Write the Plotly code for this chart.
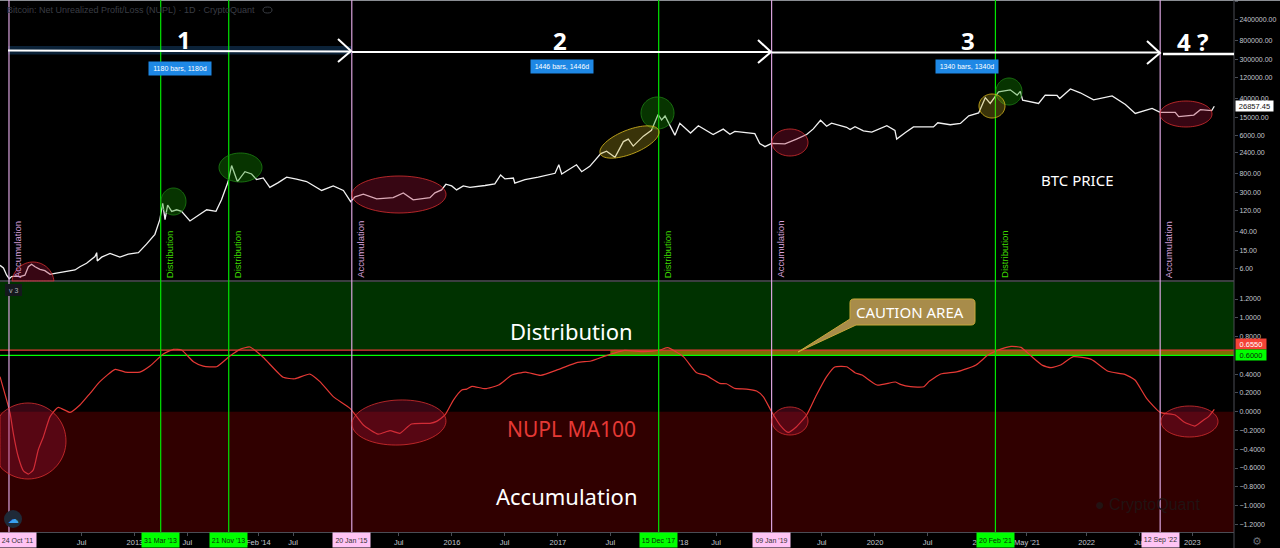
import math
import plotly.graph_objects as go

# BTC price
price_dates = ["2011-09-23","2011-10-05","2011-10-16","2011-10-25","2011-11-02","2011-11-14","2011-12-01","2011-12-18","2011-12-30","2012-01-10","2012-01-22","2012-02-08","2012-02-25","2012-03-14","2012-03-31","2012-05-10","2012-06-08","2012-06-25","2012-07-18","2012-08-16","2012-08-22","2012-08-24","2012-09-08","2012-10-07","2012-11-10","2012-12-09","2013-01-13","2013-02-10","2013-03-11","2013-03-28","2013-04-07","2013-04-15","2013-04-24","2013-05-08","2013-05-25","2013-06-11","2013-07-10","2013-08-02","2013-09-06","2013-10-08","2013-10-27","2013-11-19","2013-12-01","2013-12-21","2014-01-16","2014-02-08","2014-02-25","2014-03-20","2014-04-12","2014-05-11","2014-06-09","2014-07-13","2014-08-17","2014-10-08","2014-11-17","2014-12-22","2015-01-16","2015-01-31","2015-03-01","2015-04-16","2015-06-12","2015-07-17","2015-08-20","2015-10-17","2015-11-03","2015-11-26","2015-12-11","2015-12-31","2016-01-17","2016-02-09","2016-03-03","2016-04-24","2016-05-28","2016-06-17","2016-07-02","2016-07-31","2016-08-05","2016-09-09","2016-10-25","2016-12-22","2017-01-04","2017-01-14","2017-03-06","2017-03-24","2017-04-21","2017-05-29","2017-06-18","2017-07-17","2017-08-15","2017-09-01","2017-09-18","2017-10-23","2017-11-20","2017-12-13","2017-12-25","2018-01-06","2018-01-28","2018-02-09","2018-02-26","2018-04-04","2018-05-01","2018-06-21","2018-07-26","2018-08-18","2018-09-04","2018-11-12","2018-11-29","2018-12-17","2019-01-09","2019-02-24","2019-04-05","2019-05-10","2019-06-02","2019-06-27","2019-07-18","2019-08-04","2019-09-25","2019-10-07","2019-10-24","2019-11-22","2019-12-21","2020-02-11","2020-03-10","2020-03-16","2020-04-14","2020-05-13","2020-07-21","2020-08-05","2020-09-17","2020-10-22","2020-11-20","2020-12-24","2021-01-16","2021-02-02","2021-03-03","2021-04-12","2021-05-06","2021-05-17","2021-05-25","2021-07-19","2021-08-11","2021-09-21","2021-09-30","2021-11-06","2021-12-10","2022-01-25","2022-03-30","2022-05-15","2022-06-18","2022-07-17","2022-08-15","2022-09-12","2022-11-03","2022-11-15","2023-01-06","2023-01-29","2023-03-09","2023-03-18"]
price_vals = [7,6.1,4.2,3.5,3.9,4,3.9,4.2,6.5,7.4,6.5,5.7,5.3,4.4,4.6,5.1,5.5,6.5,7.8,11,13.5,8.8,10.7,13,10.7,12.5,13.5,21,35,75,175,75,160,115,125,115,70,88,125,115,210,540,1240,540,900,800,600,650,400,510,680,610,540,340,430,340,190,245,280,220,235,300,210,235,300,350,470,430,350,430,400,440,480,760,620,650,500,600,680,830,1290,800,1290,900,1190,2300,2600,1900,4300,4900,3400,5700,7700,17500,13200,16200,8400,6000,11100,6700,9800,6200,8200,6300,7300,6500,3900,3300,3900,3800,4900,6200,8300,13000,9500,11200,9000,8000,9300,7500,7000,9800,7700,4900,6800,9200,9200,11400,10300,11000,16300,19000,42000,31000,57000,63000,48000,58000,37000,31000,48000,47000,40000,66000,54000,37500,46000,29500,18500,21000,24000,19500,19500,15700,17000,22500,21500,26857.45]

# NUPL MA100
nupl_dates = ["2011-09-23","2011-10-16","2011-10-28","2011-11-08","2011-11-25","2011-12-13","2011-12-30","2012-01-16","2012-02-02","2012-02-20","2012-03-14","2012-04-11","2012-05-22","2012-06-25","2012-07-30","2012-09-02","2012-10-25","2012-11-28","2013-01-18","2013-02-22","2013-04-09","2013-05-14","2013-06-11","2013-07-22","2013-08-25","2013-10-10","2013-11-25","2013-12-30","2014-02-02","2014-03-20","2014-05-28","2014-07-08","2014-08-28","2014-10-02","2014-11-17","2015-01-14","2015-03-01","2015-04-21","2015-06-01","2015-07-05","2015-08-14","2015-10-17","2015-11-09","2015-12-08","2016-01-06","2016-02-04","2016-02-21","2016-03-10","2016-04-25","2016-06-10","2016-07-26","2016-09-11","2016-11-02","2017-01-04","2017-03-10","2017-04-25","2017-06-22","2017-08-19","2017-10-24","2017-12-20","2018-01-15","2018-03-10","2018-04-25","2018-05-28","2018-07-14","2018-08-06","2018-09-04","2018-10-14","2018-11-18","2018-12-11","2019-01-09","2019-02-07","2019-03-07","2019-04-05","2019-05-10","2019-06-13","2019-07-18","2019-08-15","2019-09-25","2019-10-24","2019-11-17","2020-01-08","2020-03-12","2020-03-29","2020-05-03","2020-06-18","2020-07-05","2020-08-15","2020-10-12","2020-12-15","2021-01-25","2021-02-25","2021-04-15","2021-05-19","2021-06-23","2021-08-02","2021-08-31","2021-10-05","2021-11-16","2022-01-17","2022-03-16","2022-05-13","2022-06-17","2022-07-27","2022-09-12","2022-11-03","2022-12-02","2023-01-10","2023-02-09","2023-02-26","2023-03-18"]
nupl_vals = [.373,.124,-.018,-.23,-.48,-.63,-.664,-.62,-.408,-.266,-.053,.046,-.007,.071,.195,.32,.451,.422,.422,.486,.614,.664,.657,.532,.486,.479,.593,.664,.689,.579,.366,.351,.401,.32,.16,.035,-.142,-.238,-.202,-.23,-.131,-.124,-.103,-.035,.124,.231,.241,.27,.245,.284,.39,.422,.387,.451,.525,.54,.603,.653,.639,.657,.682,.586,.415,.387,.302,.298,.248,.241,.22,.16,0,-.142,-.22,-.16,-.035,.177,.373,.476,.479,.415,.39,.284,.316,.291,.266,.266,.32,.401,.426,.497,.603,.65,.696,.685,.593,.493,.469,.5,.586,.557,.43,.398,.337,.142,-.007,-.035,-.106,-.153,-.089,-.053,.025]

acc_dates = ["2011-10-24","2015-01-20","2019-01-09","2022-09-12"]
dist_dates = ["2013-03-31","2013-11-21","2017-12-15","2021-02-20"]
acc_labels = ["24 Oct '11","20 Jan '15","09 Jan '19","12 Sep '22"]
dist_labels = ["31 Mar '13","21 Nov '13","15 Dec '17","20 Feb '21"]

price_ticks = [6,15,40,120,300,800,2400,6000,15000,40000,120000,300000,800000,2400000,6000000]
nupl_ticks = [1.2,1.0,0.8,0.4,0.2,0,-0.2,-0.4,-0.6,-0.8,-1.0,-1.2]
time_ticks = ["2012-07-01","2013-01-01","2013-07-01","2014-03-03","2014-07-01","2015-07-01","2016-01-01","2016-07-01","2017-01-01","2017-07-01","2018-02-13","2018-07-01","2019-07-01","2020-01-01","2020-07-01","2021-01-01","2021-06-09","2022-01-01","2022-07-01","2023-01-01"]
time_labels = ["Jul","2013","Jul","Feb '14","Jul","Jul","2016","Jul","2017","Jul","Feb '18","Jul","Jul","2020","Jul","2021","May '21","2022","Jul","2023"]

upper_level = 0.655
lower_level = 0.6
caution_start = "2017-07-01"
last_date = "2023-05-25"
first_date = "2011-09-23"

W, H = 1280, 548
PINK = "#d9a3dd"
LIME = "#00e600"
REDLINE = "#e53935"
AXIS = "#4a4d55"
TEXT = "#c4c7cf"
FONT = "Liberation Sans"
BIG = "Noto Sans"


def X(px):
    return px / W


def Y(py):
    return 1 - py / H


def poly(pts):
    return "M " + " L ".join(f"{X(a):.5f},{Y(b):.5f}" for a, b in pts) + " Z"


def oval(x0, x1, y0, y1, kind, tilt=0, clip=None):
    cx, cy, rx, ry = (x0 + x1) / 2, (y0 + y1) / 2, (x1 - x0) / 2, (y1 - y0) / 2
    pts = []
    for i in range(72):
        t = 2 * math.pi * i / 72
        a, b = rx * math.cos(t), ry * math.sin(t)
        px = cx + a * math.cos(tilt) - b * math.sin(tilt)
        py = cy + a * math.sin(tilt) + b * math.cos(tilt)
        if clip is not None:
            py = min(py, clip)
        pts.append((max(px, 0), py))
    fill, edge = kind
    return dict(type="path", path=poly(pts), xref="paper", yref="paper", fillcolor=fill,
                line=dict(color=edge, width=1), layer="above")


RED = ("rgba(170,20,60,0.32)", "rgba(225,50,50,0.75)")
GREEN = ("rgba(20,150,0,0.35)", "rgba(30,130,20,0.8)")
YELLOW = ("rgba(190,170,30,0.3)", "rgba(210,180,30,0.85)")

fig = go.Figure()
fig.add_trace(go.Scatter(x=price_dates, y=price_vals, mode="lines", yaxis="y",
                         line=dict(color="#f2f2f2", width=1.3), hoverinfo="skip"))
fig.add_trace(go.Scatter(x=nupl_dates, y=nupl_vals, mode="lines", yaxis="y2",
                         line=dict(color=REDLINE, width=1.2, shape="spline", smoothing=0.5), hoverinfo="skip"))

shapes = [
    # bands in the lower pane
    dict(type="rect", xref="x", yref="y2", x0=first_date, x1=last_date, y0=upper_level, y1=1.381,
         fillcolor="#003200", line_width=0, layer="below"),
    dict(type="rect", xref="x", yref="y2", x0=first_date, x1=last_date, y0=0, y1=-1.281,
         fillcolor="#300000", line_width=0, layer="below"),
    dict(type="rect", xref="x", yref="y2", x0=caution_start, x1=last_date, y0=lower_level, y1=upper_level,
         fillcolor="#7d6e00", line_width=0, layer="below"),
    dict(type="line", xref="x", yref="y2", x0=first_date, x1=last_date, y0=upper_level, y1=upper_level,
         line=dict(color=REDLINE, width=1.2), layer="below"),
    dict(type="line", xref="x", yref="y2", x0=first_date, x1=last_date, y0=lower_level, y1=lower_level,
         line=dict(color="#00ff00", width=1.4), layer="below"),
    # frame
    dict(type="line", xref="paper", yref="paper", x0=0, x1=1, y0=Y(0.5), y1=Y(0.5), line=dict(color="#8a8d93", width=1)),
    dict(type="line", xref="paper", yref="paper", x0=0, x1=X(1234), y0=Y(281), y1=Y(281), line=dict(color="#777a80", width=1.2)),
    dict(type="line", xref="paper", yref="paper", x0=0, x1=X(1234), y0=Y(532.5), y1=Y(532.5), line=dict(color=AXIS, width=1)),
    dict(type="line", xref="paper", yref="paper", x0=X(1234), x1=X(1234), y0=0, y1=1, line=dict(color=AXIS, width=1)),
]

for d in acc_dates:
    shapes.append(dict(type="line", xref="x", yref="paper", x0=d, x1=d, y0=Y(532), y1=1,
                       line=dict(color=PINK, width=1.2)))
for d in dist_dates:
    shapes.append(dict(type="line", xref="x", yref="paper", x0=d, x1=d, y0=Y(532), y1=1,
                       line=dict(color=LIME, width=1.2)))

# measured ranges
shapes.append(dict(type="rect", xref="paper", yref="paper", x0=X(8), x1=X(352), y0=Y(46), y1=Y(54.5),
                   fillcolor="#0b2238", line_width=0, layer="below"))
for x0, y0, x1, y1 in [(8, 50.5, 351, 51.5), (352, 52, 771, 52), (772, 52.5, 1160, 52.5)]:
    shapes.append(dict(type="line", xref="paper", yref="paper", x0=X(x0), x1=X(x1), y0=Y(y0), y1=Y(y1),
                       line=dict(color="#ffffff", width=2)))
shapes.append(dict(type="line", xref="paper", yref="paper", x0=X(1163), x1=X(1234), y0=Y(54), y1=Y(54),
                   line=dict(color="#ffffff", width=2.5)))
for tip_x, tip_y in [(351, 51), (771, 52), (1160, 53)]:
    shapes.append(dict(type="path", xref="paper", yref="paper", line=dict(color="#ffffff", width=2),
                       path=f"M {X(tip_x-13):.5f},{Y(tip_y-12):.5f} L {X(tip_x):.5f},{Y(tip_y):.5f} L {X(tip_x-13):.5f},{Y(tip_y+11):.5f}"))

# ovals
shapes += [
    oval(12, 54, 262, 304, RED, clip=281),
    oval(352, 446, 176, 213, RED),
    oval(772, 808, 129, 156, RED),
    oval(1160, 1212, 101, 127, RED),
    oval(161, 186, 188, 215, GREEN),
    oval(219, 262, 153, 182, GREEN),
    oval(641, 674, 97, 129, GREEN),
    oval(996, 1022, 78, 105, GREEN),
    oval(598, 661, 130, 154, YELLOW, tilt=-0.38),
    oval(979, 1005, 94, 118, YELLOW),
    oval(-10, 66, 403, 479, RED),
    oval(352, 446, 400, 445, RED, tilt=-0.04),
    oval(772, 808, 407, 435, RED),
    oval(1161, 1218, 406, 437, RED),
]

# callout for the caution area
box = (850, 975, 299, 325, 4)
bx0, bx1, by0, by1, r = box
shapes.append(dict(
    type="path", xref="paper", yref="paper", fillcolor="#a88c4a", line=dict(color="#c9a93a", width=1), layer="above",
    path=(f"M {X(bx0+r):.5f},{Y(by0):.5f} L {X(bx1-r):.5f},{Y(by0):.5f} Q {X(bx1):.5f},{Y(by0):.5f} {X(bx1):.5f},{Y(by0+r):.5f} "
          f"L {X(bx1):.5f},{Y(by1-r):.5f} Q {X(bx1):.5f},{Y(by1):.5f} {X(bx1-r):.5f},{Y(by1):.5f} "
          f"L {X(856):.5f},{Y(by1):.5f} L {X(798):.5f},{Y(352):.5f} L {X(bx0):.5f},{Y(319):.5f} "
          f"L {X(bx0):.5f},{Y(by0+r):.5f} Q {X(bx0):.5f},{Y(by0):.5f} {X(bx0+r):.5f},{Y(by0):.5f} Z")))

# small icons
shapes += [
    dict(type="circle", xref="paper", yref="paper", x0=X(4), x1=X(22), y0=Y(510), y1=Y(528), fillcolor="#1f2a38", line_width=0, layer="above"),
    dict(type="rect", xref="paper", yref="paper", x0=X(5), x1=X(22), y0=Y(284), y1=Y(296), fillcolor="#15181d", line_width=0, layer="above"),
    dict(type="circle", xref="paper", yref="paper", x0=X(263), x1=X(272), y0=Y(7), y1=Y(13), line=dict(color="#3a3d44", width=1)),
]


def note(px, py, text, size, color, font=BIG, **kw):
    return dict(xref="paper", yref="paper", x=X(px), y=Y(py), text=text, showarrow=False, xanchor="center",
                yanchor="middle", font=dict(size=size, color=color, family=font), **kw)


annotations = [
    dict(xref="paper", yref="paper", x=X(5), y=Y(10), xanchor="left", yanchor="middle", showarrow=False,
         text="Bitcoin: Net Unrealized Profit/Loss (NUPL) · 1D · CryptoQuant",
         font=dict(size=9, color="#3a3d44", family=FONT)),
    note(184, 39, "<b>1</b>", 24, "#ffffff"), note(560, 41, "<b>2</b>", 24, "#ffffff"),
    note(968, 41, "<b>3</b>", 24, "#ffffff"), note(1192, 42, "<b>4 ?</b>", 24, "#ffffff"),
    note(1077, 180, "BTC PRICE", 15, "#ffffff"),
    note(571, 331, "Distribution", 22, "#ffffff"),
    note(571, 429, "NUPL MA100", 21, "#e53935"),
    note(566, 496, "Accumulation", 22, "#ffffff"),
    note(910, 311.5, "CAUTION AREA", 15, "#ffffff"),
    note(1147, 504, "● CryptoQuant", 16, "#221313", font=FONT),
    note(13, 519, "☁", 11, "#3aa0f0", font="DejaVu Sans"),
    note(13, 290, "v 3", 7, "#b0b3b8", font=FONT),
    note(1257, 541, "⚙", 11, "#6a6d75", font="DejaVu Sans"),
]

for cx, cy, txt in [(179.5, 68.5, "1180 bars, 1180d"), (562, 66.5, "1446 bars, 1446d"), (966.5, 66.5, "1340 bars, 1340d")]:
    annotations.append(note(cx, cy, txt, 7, "#ffffff", font=FONT, bgcolor="#1e88e5", width=62, height=13, borderpad=0))

for d, txt in zip(acc_dates, ["Accumulation"] * 4):
    annotations.append(dict(xref="x", yref="paper", x=d, y=Y(280), text=txt, textangle=-90, showarrow=False,
                            xanchor="left", yanchor="bottom", xshift=1, font=dict(size=9.5, color=PINK, family=FONT)))
for d, txt in zip(dist_dates, ["Distribution"] * 4):
    annotations.append(dict(xref="x", yref="paper", x=d, y=Y(280), text=txt, textangle=-90, showarrow=False,
                            xanchor="left", yanchor="bottom", xshift=1, font=dict(size=9.5, color="#3fdc00", family=FONT)))

for i, (d, txt) in enumerate(zip(acc_dates, acc_labels)):
    annotations.append(dict(xref="x", yref="paper", x=d, y=Y(540), text=txt, showarrow=False, xanchor="center", yanchor="middle",
                            xshift=9 if i == 0 else 0, bgcolor="#ffc4f4", width=37, height=14, borderpad=0,
                            font=dict(size=7, color="#333333", family=FONT)))
for d, txt in zip(dist_dates, dist_labels):
    annotations.append(dict(xref="x", yref="paper", x=d, y=Y(540), text=txt, showarrow=False, xanchor="center", yanchor="middle",
                            bgcolor="#00ff00", width=37, height=14, borderpad=0,
                            font=dict(size=7, color="#0a2a0a", family=FONT)))

# price scale tags
annotations += [
    dict(xref="paper", yref="y", x=X(1235), y=math.log10(price_vals[-1]), text=f"{price_vals[-1]:.2f}", showarrow=False, xanchor="left", yanchor="middle",
         bgcolor="#ffffff", width=37, height=10, borderpad=0, font=dict(size=7.5, color="#111111", family=FONT)),
    dict(xref="paper", yref="y2", x=X(1234.5), y=upper_level, text=f"{upper_level:.4f}", showarrow=False, xanchor="left", yanchor="bottom",
         bgcolor="#f44336", width=30, height=10, borderpad=0, font=dict(size=7.5, color="#ffffff", family=FONT)),
    dict(xref="paper", yref="y2", x=X(1234.5), y=lower_level, text=f"{lower_level:.4f}", showarrow=False, xanchor="left", yanchor="middle",
         bgcolor="#00ff00", width=30, height=10, borderpad=0, font=dict(size=7.5, color="#0a2a0a", family=FONT)),
]

fig.update_layout(
    width=W, height=H, margin=dict(l=0, r=0, t=0, b=0), showlegend=False,
    paper_bgcolor="#000000", plot_bgcolor="#000000", hovermode=False,
    font=dict(family=FONT, size=7.5, color=TEXT),
    shapes=shapes, annotations=annotations,
    xaxis=dict(domain=[0, 1234 / W], range=[first_date, last_date], anchor="y2", showgrid=False, zeroline=False,
               tickmode="array", tickvals=time_ticks, ticktext=time_labels, ticks="outside", ticklen=3, tickcolor=AXIS,
               tickfont=dict(size=7.5, color=TEXT), showline=False),
    yaxis=dict(domain=[1 - 281 / H, 1], type="log", range=[0.492, 6.823], side="right", anchor="x", showgrid=False, zeroline=False,
               tickmode="array", tickvals=price_ticks, ticktext=[f"{v:.2f}" for v in price_ticks], ticks="outside", ticklen=3,
               tickcolor=AXIS, tickfont=dict(size=7, color=TEXT), showline=False),
    yaxis2=dict(domain=[1 - 532 / H, 1 - 282 / H], range=[-1.281, 1.381], side="right", anchor="x", showgrid=False, zeroline=False,
                tickmode="array", tickvals=nupl_ticks, ticktext=[("\u2212" if v < 0 else "") + f"{abs(v):.4f}" for v in nupl_ticks],
                ticks="outside", ticklen=3, tickcolor=AXIS, tickfont=dict(size=7, color=TEXT), showline=False),
)

fig.write_html("out.html", config={"displayModeBar": False},
               post_script="document.body.style.margin='0';document.body.style.background='#000';")
